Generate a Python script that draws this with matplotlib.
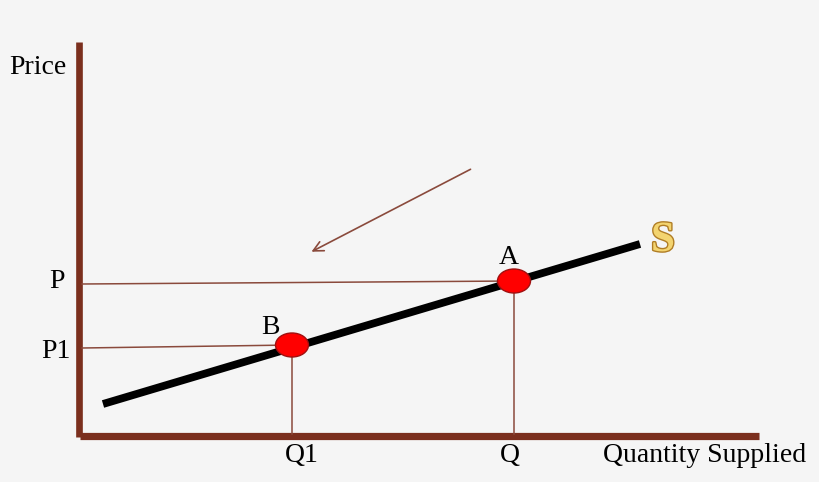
import matplotlib.pyplot as plt
from matplotlib.patches import Ellipse
import matplotlib.patheffects as pe

# supply curve (quantity, price) in chart units, origin at the axis corner
supply_q = [24, 561]
supply_p = [32, 192]

# equilibrium points
point_names = ['A', 'B']
point_q = [435, 213]
point_p = [155, 91]
point_label_q = [430, 191]
point_label_p = [178, 109]

# guide lines start a little lower at the axis than at the point
guide_start_p = [152, 88]

price_labels = ['P', 'P1']
price_label_q = [-22, -23]
price_label_p = [155, 84]
qty_labels = ['Q', 'Q1']
qty_label_q = [431, 223]

# shift arrow
arrow_from = (394, 268)
arrow_to = (230, 183)

BROWN = '#7b2f1e'
THIN = '#8a4a3c'
BG = '#f5f5f5'
FS = 20

plt.rcParams['font.family'] = ['Liberation Serif', 'DejaVu Serif']

fig = plt.figure(figsize=(8.2, 4.82), dpi=100)
fig.patch.set_facecolor(BG)
ax = fig.add_axes([0, 0, 1, 1])
ax.set_facecolor(BG)
ax.set_xlim(-79, 741)
ax.set_ylim(-46, 436)
ax.axis('off')

# axes
ax.plot([0, 0], [-1, 394], color=BROWN, lw=4.8, solid_capstyle='butt')
ax.plot([1, 680], [0, 0], color=BROWN, lw=5.2, solid_capstyle='butt')

# guide lines
for q, p, p0 in zip(point_q, point_p, guide_start_p):
    ax.plot([3, q], [p0, p], color=THIN, lw=1.1)
    ax.plot([q, q], [p, 2], color=THIN, lw=1.1)

# supply curve
ax.plot(supply_q, supply_p, color='black', lw=5.6, solid_capstyle='butt')

# points
for q, p in zip(point_q, point_p):
    ax.add_patch(Ellipse((q, p), 33, 24, facecolor='#ff0000',
                         edgecolor='#a01010', lw=1, zorder=5))
for name, q, p in zip(point_names, point_label_q, point_label_p):
    ax.text(q, p, name, fontsize=FS, ha='center', va='center')

# arrow
ax.annotate('', xy=arrow_to, xytext=arrow_from,
            arrowprops=dict(arrowstyle='->', color=THIN, lw=1.2,
                            mutation_scale=18))

# axis labels
ax.text(-41, 368, 'Price', fontsize=FS, ha='center', va='center')
ax.text(626, -20, 'Quantity Supplied', fontsize=FS, ha='center', va='center')
for lab, q, p in zip(price_labels, price_label_q, price_label_p):
    ax.text(q, p, lab, fontsize=FS, ha='center', va='center')
for lab, q in zip(qty_labels, qty_label_q):
    ax.text(q, -19, lab, fontsize=FS, ha='center', va='center')

# S label
ax.text(584, 195, 'S', fontsize=31, fontweight='bold', ha='center',
        va='center', color='#f3d470',
        path_effects=[pe.Stroke(linewidth=2, foreground='#b07d25'), pe.Normal()])

fig.savefig('out.png', dpi=100, facecolor=BG)
